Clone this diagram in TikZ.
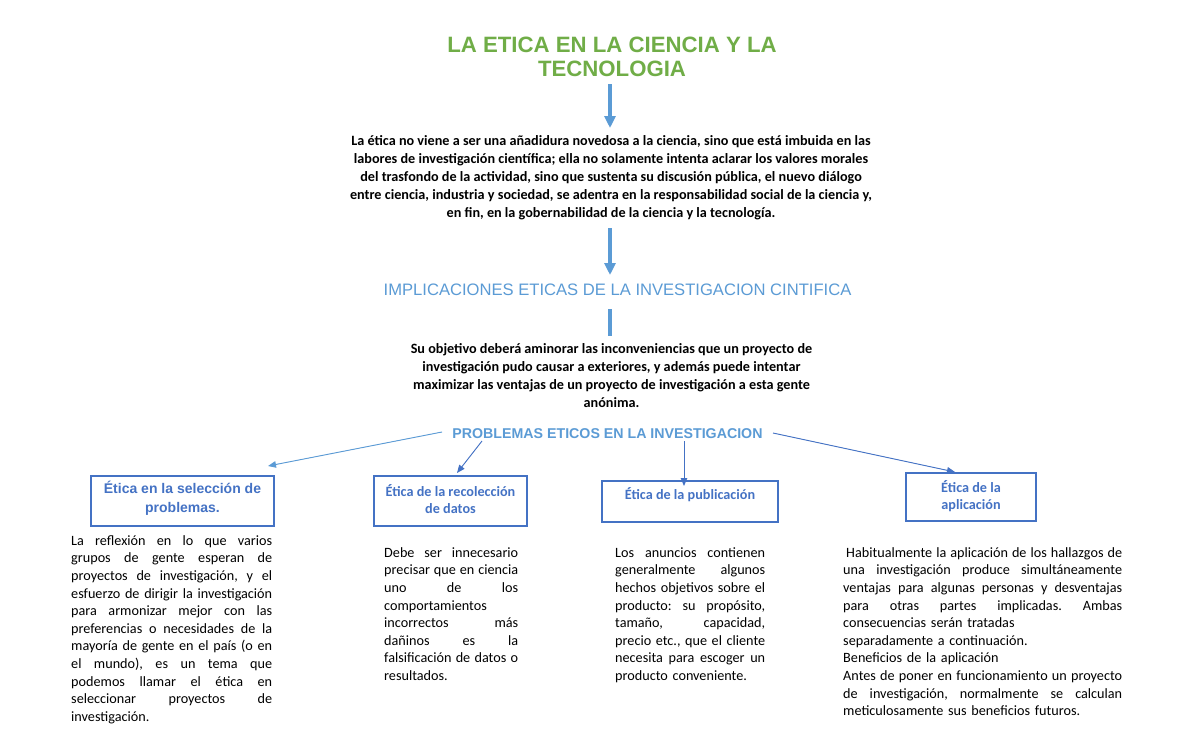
\documentclass[tikz,border=0pt]{standalone}
\usepackage{fontspec}
\setmainfont{Carlito}
\newfontfamily\arial{Liberation Sans}
\usetikzlibrary{arrows.meta}
\definecolor{tgreen}{HTML}{70AD47}
\definecolor{lblue}{HTML}{5B9BD5}
\definecolor{dblue}{HTML}{4472C4}
\frenchspacing
\newcommand{\jl}[1]{\hbox to\hsize{\spaceskip=0pt\xspaceskip=0pt #1}\par}
\begin{document}
\begin{tikzpicture}[x=1pt,y=-1pt,
 thickarrow/.style={draw=lblue,line width=4pt,-{Triangle[length=12pt,width=11pt]}},
 thickline/.style={draw=lblue,line width=4pt},
 thinarrow/.style={line width=0.9pt,-{Triangle[length=8pt,width=6.5pt]}},
 boxnode/.style={draw=dblue,line width=1.3pt,inner sep=0pt},
 boxlabel/.style={text=dblue,align=center,inner sep=0pt},
 body/.style={anchor=north west,inner sep=0pt,align=left,font=\fontsize{14.2}{17.6}\selectfont\frenchspacing},
 centered/.style={align=center,inner sep=0pt,font=\bfseries\fontsize{14.2}{18}\selectfont},
]
\useasboundingbox (0,0) rectangle (1200,729);
\fill[white] (0,0) rectangle (1200,729);

\node[font=\arial\bfseries\fontsize{22.2}{24}\selectfont, text=tgreen, align=center, inner sep=0pt] (title) at (612,57) {LA ETICA EN LA CIENCIA Y LA\\TECNOLOGIA};

\node[centered] (intro) at (611,178) {La ética no viene a ser una añadidura novedosa a la ciencia, sino que está imbuida en las\\
labores de investigación científica; ella no solamente intenta aclarar los valores morales\\
del trasfondo de la actividad, sino que sustenta su discusión pública, el nuevo diálogo\\
entre ciencia, industria y sociedad, se adentra en la responsabilidad social de la ciencia y,\\
en fin, en la gobernabilidad de la ciencia y la tecnología.};

\node[font=\arial\fontsize{16.6}{19}\selectfont, text=lblue, inner sep=0pt] (impl) at (617.5,290) {IMPLICACIONES ETICAS DE LA INVESTIGACION CINTIFICA};

\node[centered] (obj) at (611.5,376) {Su objetivo deberá aminorar las inconveniencias que un proyecto de\\
investigación pudo causar a exteriores, y además puede intentar\\
maximizar las ventajas de un proyecto de investigación a esta gente\\
anónima.};

\node[font=\arial\bfseries\fontsize{14.2}{17}\selectfont, text=lblue, inner sep=0pt] (prob) at (607.5,434) {PROBLEMAS ETICOS EN LA INVESTIGACION};

% boxes
\node[boxnode, minimum width=183pt, minimum height=50pt] (box1) at (182.5,501) {};
\node[boxnode, minimum width=153pt, minimum height=50pt] (box2) at (450.5,501) {};
\node[boxnode, minimum width=176pt, minimum height=41pt] (box3) at (690,501.5) {};
\node[boxnode, minimum width=130pt, minimum height=48pt] (box4) at (971,497) {};

\node[boxlabel, font=\arial\bfseries\fontsize{14}{19}\selectfont] (lab1) at (182.5,498.5) {Ética en la selección de\\problemas.};
\node[boxlabel, font=\bfseries\fontsize{14.2}{17.5}\selectfont] (lab2) at (450.5,499) {Ética de la recolección\\de datos};
\node[boxlabel, font=\bfseries\fontsize{14.2}{17.5}\selectfont] (lab3) at (690,495) {Ética de la publicación};
\node[boxlabel, font=\bfseries\fontsize{14.2}{17.5}\selectfont] (lab4) at (971,496) {Ética de la\\aplicación};

% main arrows
\coordinate (a1s) at (610,84);  \coordinate (a1e) at (610,128);
\coordinate (a2s) at (610,228); \coordinate (a2e) at (610,275);
\coordinate (a3s) at (610,309); \coordinate (a3e) at (610,336);
\draw[thickarrow] (a1s) -- (a1e);
\draw[thickarrow] (a2s) -- (a2e);
\draw[thickline] (a3s) -- (a3e);

% thin arrows
\coordinate (t1s) at (442,432); \coordinate (t1e) at (268,466);
\coordinate (t2s) at (482,441); \coordinate (t2e) at (457,473);
\coordinate (t3s) at (684,441); \coordinate (t3e) at (684,486);
\coordinate (t4s) at (773,433); \coordinate (t4e) at (955,472);
\draw[thinarrow, draw=lblue, fill=lblue] (t1s) -- (t1e);
\draw[thinarrow, draw=dblue, fill=dblue] (t2s) -- (t2e);
\draw[thinarrow, draw=dblue, fill=dblue] (t3s) -- (t3e);
\draw[thinarrow, draw=dblue, fill=dblue] (t4s) -- (t4e);

% bodies
\node[body, text width=201pt] (b1) at (71,532.7) {\noindent\jl{\strut La reflexión en lo que varios}
\jl{grupos de gente esperan de}
\jl{proyectos de investigación, y el}
\jl{esfuerzo de dirigir la investigación}
\jl{para armonizar mejor con las}
\jl{preferencias o necesidades de la}
\jl{mayoría de gente en el país (o en}
\jl{el mundo), es un tema que}
\jl{podemos llamar el ética en}
\jl{seleccionar proyectos de}
\noindent investigación.};

\node[body, text width=134pt] (b2) at (384,544.7) {\jl{\strut Debe ser innecesario}
\jl{precisar que en ciencia}
\jl{uno de los}
\noindent comportamientos\par
\jl{incorrectos más}
\jl{dañinos es la}
\jl{falsificación de datos o}
\noindent resultados.};

\node[body, text width=150pt] (b3) at (615,544.7) {\jl{\strut Los anuncios contienen}
\jl{generalmente algunos}
\jl{hechos objetivos sobre el}
\jl{producto: su propósito,}
\jl{tamaño, capacidad,}
\jl{precio etc., que el cliente}
\jl{necesita para escoger un}
\noindent producto conveniente.};

\node[body, text width=279pt] (b4) at (843,544.7) {\jl{\strut\hspace{3pt}Habitualmente la aplicación de los hallazgos de}
\jl{una investigación produce simultáneamente}
\jl{ventajas para algunas personas y desventajas}
\jl{para otras partes implicadas. Ambas}
\noindent consecuencias serán tratadas\par
\noindent separadamente a continuación.\par
\noindent Beneficios de la aplicación\par
\jl{Antes de poner en funcionamiento un proyecto}
\jl{de investigación, normalmente se calculan}
\noindent meticulosamente sus beneficios futuros.};
\end{tikzpicture}
\end{document}
